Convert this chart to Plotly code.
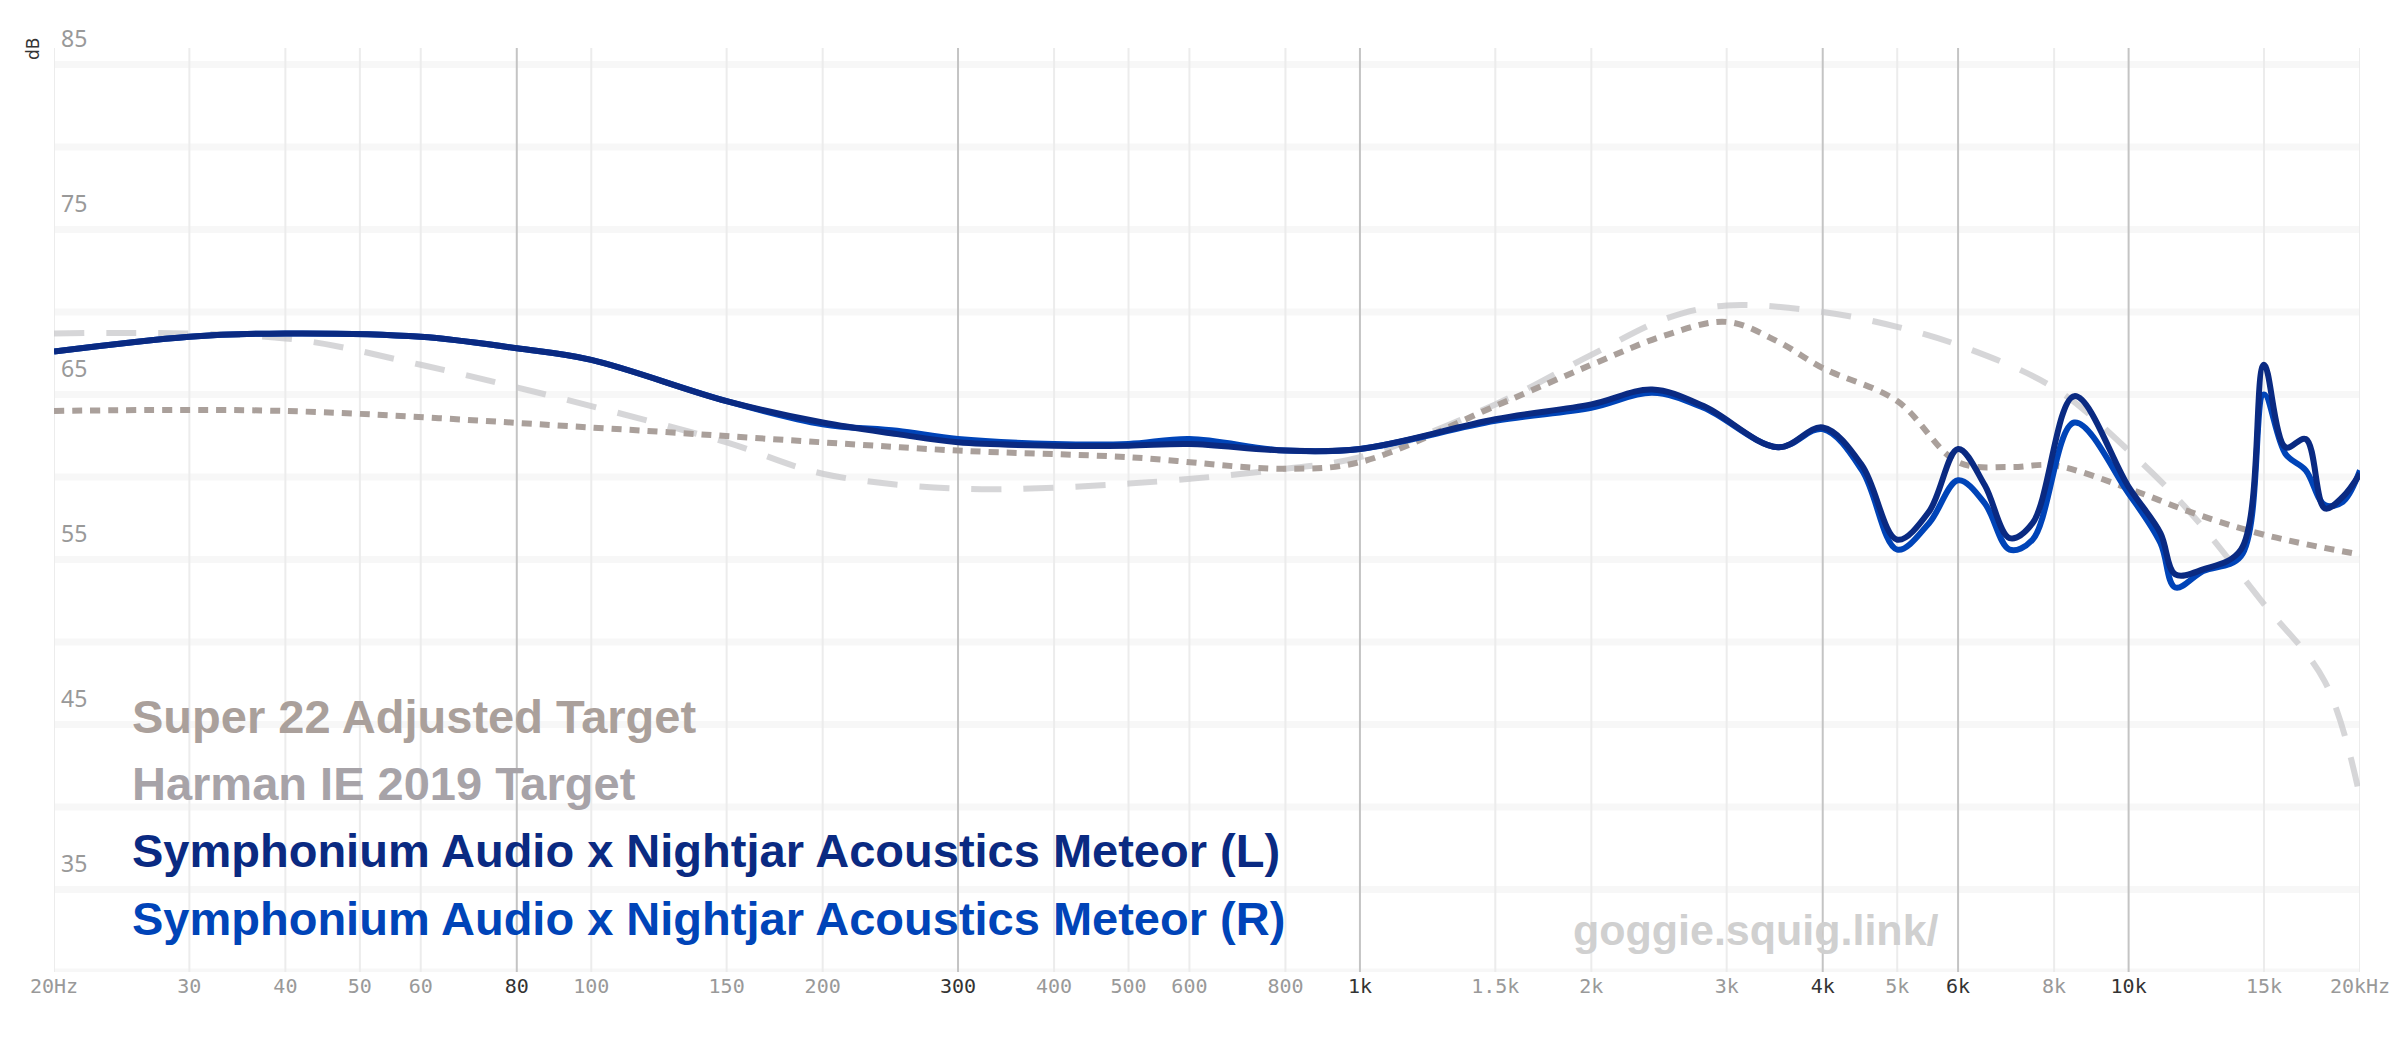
import numpy as np
import plotly.graph_objects as go

# Meteor (L) / (R) measurements
meteor_f = [20, 30, 40, 60, 80, 100, 150, 200, 250, 300, 400, 500, 600, 800, 1000, 1500, 2000,
            2400, 2800, 3500, 4000, 4500, 5000, 5500, 6000, 6500, 7000, 7500, 8500, 10000, 11000,
            11500, 12500, 14000, 15000, 16000, 17000, 18000, 19000, 20000]
meteor_l = [67.6, 68.5, 68.7, 68.5, 67.8, 67.1, 64.6, 63.3, 62.6, 62.1, 61.9, 61.9, 62.0, 61.6, 61.7,
            63.5, 64.4, 65.3, 64.3, 61.8, 63.0, 60.7, 56.2, 57.9, 61.7, 59.5, 56.3, 57.2, 64.9, 59.4,
            56.6, 54.1, 54.4, 55.6, 66.8, 61.8, 62.3, 58.1, 58.8, 60.2]
meteor_r = [67.6, 68.5, 68.7, 68.5, 67.8, 67.1, 64.6, 63.2, 62.8, 62.3, 62.0, 62.0, 62.3, 61.6, 61.7,
            63.4, 64.2, 65.1, 64.2, 61.8, 62.9, 60.4, 55.6, 57.2, 59.8, 58.4, 55.6, 56.2, 63.3, 59.0,
            56.0, 53.3, 54.3, 55.2, 65.0, 61.4, 60.4, 58.3, 58.5, 60.4]

harman_f = [20, 40, 60, 100, 150, 200, 300, 500, 800, 1000, 1500, 2000, 2500, 3000, 4000, 5000,
            6000, 8000, 10000, 12000, 15000, 18000, 20000]
harman_db = [68.7, 68.4, 66.8, 64.3, 62.1, 60.2, 59.3, 59.6, 60.5, 61.2, 64.4, 67.4, 69.6, 70.4,
             70.0, 69.1, 68.0, 65.4, 61.6, 57.9, 52.3, 47.6, 40.6]

super22_f = [20, 40, 100, 200, 300, 500, 800, 1000, 1500, 2000, 2500, 3000, 3500, 4000, 5000,
             6000, 7000, 8000, 10000, 12000, 15000, 20000]
super22_db = [64.0, 64.0, 63.0, 62.1, 61.6, 61.2, 60.5, 60.9, 64.3, 66.8, 68.6, 69.4, 68.2, 66.6,
              64.6, 60.9, 60.6, 60.7, 59.3, 57.9, 56.5, 55.3]

x_ticks = [20, 30, 40, 50, 60, 80, 100, 150, 200, 300, 400, 500, 600, 800, 1000, 1500, 2000,
           3000, 4000, 5000, 6000, 8000, 10000, 15000, 20000]
x_labels = ["20Hz", "30", "40", "50", "60", "80", "100", "150", "200", "300", "400", "500", "600",
            "800", "1k", "1.5k", "2k", "3k", "4k", "5k", "6k", "8k", "10k", "15k", "20kHz"]
major_ticks = [80, 300, 1000, 4000, 6000, 10000]
y_labels = [85, 75, 65, 55, 45, 35]

legend_names = ["Super 22 Adjusted Target", "Harman IE 2019 Target",
                "Symphonium Audio x Nightjar Acoustics Meteor (L)",
                "Symphonium Audio x Nightjar Acoustics Meteor (R)"]
legend_colors = ["#aaa09b", "#a7a3a8", "#0a2a82", "#0044b8"]

fig = go.Figure()
fig.add_trace(go.Scatter(x=harman_f, y=harman_db, mode="lines", line_shape="spline",
                         line=dict(color="rgba(200,200,203,0.75)", width=6, dash="30px,22px")))
fig.add_trace(go.Scatter(x=super22_f, y=super22_db, mode="lines", line_shape="spline",
                         line=dict(color="#aaa09b", width=6, dash="10px,8px")))
fig.add_trace(go.Scatter(x=meteor_f, y=meteor_r, mode="lines", line_shape="spline",
                         line=dict(color="#0044b8", width=6)))
fig.add_trace(go.Scatter(x=meteor_f, y=meteor_l, mode="lines", line_shape="spline",
                         line=dict(color="#0a2a82", width=6)))

shapes = []
for db in range(30, 90, 5):
    shapes.append(dict(type="line", xref="paper", x0=0, x1=1, y0=db, y1=db, layer="below",
                       line=dict(color="#f7f7f7", width=7)))
for t in x_ticks:
    shapes.append(dict(type="line", yref="paper", y0=0, y1=1, x0=t, x1=t, layer="below",
                       line=dict(color="#c4c4c4" if t in major_ticks else "#ececec", width=2)))

ticktext = []
for t, lab in zip(x_ticks, x_labels):
    col = "#333" if t in major_ticks else "#999"
    ticktext.append(f"<span style='color:{col}'>{lab}</span>")

annotations = []
for v in y_labels:
    annotations.append(dict(x=0.002, xref="paper", y=v + 0.5, yref="y", text=str(v), showarrow=False,
                            xanchor="left", yanchor="bottom",
                            font=dict(family="Noto Sans", size=23, color="#999")))
annotations.append(dict(x=-0.009, xref="paper", y=0.985, yref="paper", text="dB", textangle=-90,
                        showarrow=False, xanchor="center", yanchor="bottom",
                        font=dict(family="DejaVu Sans", size=17, color="#333")))
for i, (name, col) in enumerate(zip(legend_names, legend_colors)):
    annotations.append(dict(x=0.033, xref="paper", y=0.277 - i * 0.073, yref="paper", text=f"<b>{name}</b>",
                            showarrow=False, xanchor="left", yanchor="middle",
                            font=dict(family="Liberation Sans, Arial", size=47, color=col)))
annotations.append(dict(x=0.738, xref="paper", y=0.045, yref="paper", text="<b>goggie.squig.link/</b>",
                        showarrow=False, xanchor="center", yanchor="middle",
                        font=dict(family="Liberation Sans, Arial", size=43, color="#d0d0d0")))

fig.update_layout(
    width=2400, height=1038, plot_bgcolor="white", paper_bgcolor="white", showlegend=False,
    margin=dict(l=46, r=48, t=40, b=74),
    xaxis=dict(type="log", range=[np.log10(20), np.log10(20000)], tickvals=x_ticks, ticktext=ticktext,
               showgrid=False, zeroline=False, ticks="", ticklen=0,
               tickfont=dict(family="DejaVu Sans Mono", size=20, color="#999")),
    yaxis=dict(range=[30, 86], showgrid=False, zeroline=False, showticklabels=False),
    shapes=shapes, annotations=annotations,
)

fig.write_html("out.html")
